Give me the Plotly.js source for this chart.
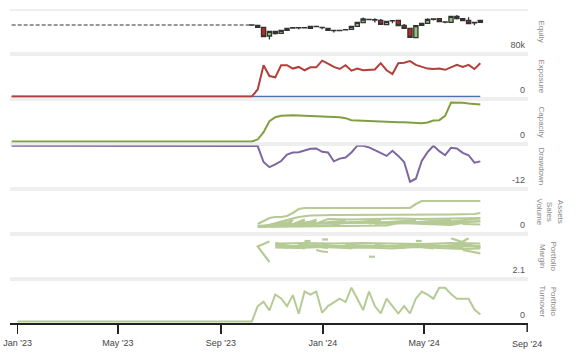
<!DOCTYPE html>
<html><head><meta charset="utf-8">
<script src="https://cdn.plot.ly/plotly-3.0.1.min.js"></script>
<style>html,body{margin:0;padding:0;background:#fff}#chart{width:580px;height:360px}</style>
</head><body><div id="chart"></div>
<script>
// weekly time index
const weeks = [];
for (let k = 0; k < 81; k++) {
  weeks.push(new Date(Date.UTC(2022, 11, 25) + k * 7 * 86400000).toISOString().slice(0, 10));
}
const activeWeeks = weeks.slice(41);

// Equity (weekly candles from week 41)
const equityStart = 100000;
const equityOpen  = [100000,99720,98210,91700,95190,93680,95940,97740,98020,97920,97450,98960,98210,97450,95940,95750,96320,96700,98960,101790,104250,103960,103490,100280,103110,103490,99720,97450,90470,99720,101230,104340,104810,102360,101980,106510,104810,103490,101890,101980];
const equityHigh  = [100100,99910,98400,95380,95380,96130,97640,98210,98210,98210,99150,99060,98300,97640,96040,96130,96700,99150,102170,105570,104340,105000,104530,102920,103490,103680,100750,97640,99720,101420,105000,104620,105000,102450,106700,107550,105000,105760,101980,103680];
const equityLow   = [99800,98110,91040,89150,92740,93490,95750,97640,96700,97830,97260,98580,96700,95750,94250,95660,96230,96510,98770,101230,103870,101980,100280,100090,101230,99340,97260,90190,90190,99530,101040,103490,102360,101230,101790,104060,103110,100850,99720,101790];
const equityClose = [99900,98210,91230,95190,93490,95940,97450,98020,97920,98020,98960,98770,98020,95940,95750,95940,96510,98960,101980,104530,104060,103770,100470,102740,103300,99530,97450,90660,99530,101230,104250,104530,102550,102170,106510,104810,103300,101040,101700,103490];

// Exposure, capacity, drawdown, turnover (weeks 41..80)
const exposure = [0,17,75,49,46,75,75,67,71,63,70,70,86,79,71,66,75,62,67,63,64,65,80,63,54,80,81,85,76,71,67,66,67,64,71,76,71,76,66,80];
const exposureBase = [0, 0];
const capacity = [0,6,28,61,73,77,79,79,78,78,77,76,75,75,74,73,70,64,63,62,61,61,60,60,59,58,58,57,56,55,57,63,64,77,117,117,116,114,113,111];
const drawdown = [0,-0.1,-4.8,-6.3,-5.5,-4.5,-2.6,-2.0,-1.9,-1.5,-0.9,-0.8,-1.8,-2.0,-4.6,-3.8,-3.5,-2.0,0,0,-0.5,-1.3,-2.1,-3.0,-1.5,-3.0,-4.8,-10.6,-9.7,-4.5,-1.9,0,-1.6,-2.8,-0.6,-0.8,-2.1,-2.8,-5.0,-4.6];
const turnover = [0,7.7,9.9,5.5,13.5,11.5,7.7,13.2,3.9,15,13.4,15,4.4,7.7,9.4,11.4,9.7,16.9,11.4,5.7,15,7.7,4,11.4,7.7,4,7.7,4,11.4,15,13.4,11.4,16.9,16.9,13.7,11.4,11.4,11.4,6,3.5];

// Assets sales volume: (week index, value) per asset
const volA_k = [42,43,44,45,46,47,48,49,50,68,69,70,80];
const volA_v = [75,105,135,145,145,155,185,225,235,235,275,305,305];
const volB_k = [43,45,47,49,51,55,60,65,70,75,79,80];
const volB_v = [50,85,115,145,160,165,165,170,170,170,175,185];
const volC_k = [46,48,47,50,49,52,51,54,58,62,66,70,74,78,80];
const volC_v = [50,120,50,120,50,120,55,125,120,125,130,125,130,130,135];
const volD_k = [42,50,56,54,60,64,62,68,72,70,76,80];
const volD_v = [50,55,65,90,95,90,75,85,95,75,85,105];
const volE_k = [42,48,53,58,64,66,71,75,78,77,80];
const volE_v = [45,50,50,55,60,85,70,65,95,75,70];
const volF_k = [44,47,46,52,50,57,55,63,61,69,67,75,73,80];
const volF_v = [65,95,60,105,70,110,75,115,80,115,85,120,90,130];
const volG_k = [42,44,52,60,68,76,80];
const volG_v = [55,65,80,85,90,95,100];

// Portfolio margin: (week index, value)
const marA_k = [44,42,44];
const marA_v = [3.85,3.60,2.825];
const marB_k = [45,46,50,55,60,65,70,75,80];
const marB_v = [3.775,3.75,3.775,3.75,3.775,3.75,3.725,3.775,3.75];
const marC_k = [45,48,52,56,60,64,68,72,76,80];
const marC_v = [3.675,3.625,3.675,3.625,3.65,3.625,3.675,3.625,3.675,3.625];
const marD_k = [45,49,53,57,61,65,69,73,77,80];
const marD_v = [3.55,3.525,3.575,3.525,3.55,3.5,3.575,3.525,3.475,3.5];
const marE_k = [50,51,null,53,54,null,52,53,54,null,61,62,null,69,70,null,75,80,null,78,75,null,77,80];
const marE_v = [3.875,3.875,null,3.95,3.95,null,3.425,3.35,3.325,null,3.09,3.09,null,3.875,3.875,null,4.01,3.51,null,4.01,3.51,null,3.425,3.26];
const marF_k = [45,47,46,50,49,54,53,58,57,63,62,67,66,72,71,77,76,80];
const marF_v = [3.725,3.525,3.7,3.5,3.725,3.525,3.7,3.5,3.725,3.525,3.7,3.525,3.725,3.5,3.7,3.525,3.725,3.575];
const marG_k = [45,80];
const marG_v = [3.6,3.6];

const panelTitles = ['Equity','Exposure','Capacity','Drawdown','Assets<br>Sales<br>Volume','Portfolio<br>Margin','Portfolio<br>Turnover'];
const panelTickVals = [80000, 0, 0, -12, 0, 2.1, 0];
const panelTickText = ['80k', '0', '0', '-12', '0', '2.1', '0'];
const panelRanges = [[78870,111320],[-3.6,99.6],[-4.5,124.5],[-12.44,0.21],[-15,415],[2.025,4.175],[-0.75,20.75]];
const xRange = ['2022-12-23','2024-09-02'];
const xTickVals = ['2023-01-01','2023-05-01','2023-09-01','2024-01-01','2024-05-01'];
const xTickText = ["Jan '23","May '23","Sep '23","Jan '24","May '24"];
const xEndTickVal = '2024-09-01';
const xEndTickText = "Sep '24";

const wk = ks => ks.map(k => k === null ? null : weeks[k]);
const LG = '#b6ca96';
const traces = [];
traces.push({type:'scatter', mode:'lines', x:[weeks[0], weeks[41]], y:[equityStart, equityStart], xaxis:'x', yaxis:'y', line:{color:'#333', width:1, dash:'4px,2px'}});
traces.push({type:'candlestick', x:activeWeeks, open:equityOpen, high:equityHigh, low:equityLow, close:equityClose, xaxis:'x', yaxis:'y',
  increasing:{line:{color:'#333', width:1.3}, fillcolor:'#8fc27a'}, decreasing:{line:{color:'#333', width:1.3}, fillcolor:'#b42c17'}});
traces.push({type:'scatter', mode:'lines', x:[weeks[0], weeks[80]], y:exposureBase, xaxis:'x', yaxis:'y2', line:{color:'#4a72b0', width:1.5}});
traces.push({type:'scatter', mode:'lines', x:[weeks[0]].concat(activeWeeks), y:[0].concat(exposure), xaxis:'x', yaxis:'y2', line:{color:'#b23f3a', width:2}});
traces.push({type:'scatter', mode:'lines', x:[weeks[0]].concat(activeWeeks), y:[0].concat(capacity), xaxis:'x', yaxis:'y3', line:{color:'#80a040', width:2}});
traces.push({type:'scatter', mode:'lines', x:[weeks[0]].concat(activeWeeks), y:[0].concat(drawdown), xaxis:'x', yaxis:'y4', line:{color:'#7e66a3', width:2}});
[[volA_k,volA_v],[volB_k,volB_v],[volC_k,volC_v],[volD_k,volD_v],[volE_k,volE_v],[volF_k,volF_v],[volG_k,volG_v]].forEach(([k,v]) =>
  traces.push({type:'scatter', mode:'lines', x:wk(k), y:v, xaxis:'x', yaxis:'y5', line:{color:LG, width:2.2}}));
[[marA_k,marA_v],[marB_k,marB_v],[marC_k,marC_v],[marD_k,marD_v],[marE_k,marE_v],[marF_k,marF_v],[marG_k,marG_v]].forEach(([k,v]) =>
  traces.push({type:'scatter', mode:'lines', x:wk(k), y:v, xaxis:'x', yaxis:'y6', line:{color:LG, width:2.2}, connectgaps:false}));
traces.push({type:'scatter', mode:'lines', x:[weeks[1]].concat(activeWeeks), y:[0].concat(turnover), xaxis:'x', yaxis:'y7', line:{color:LG, width:2}});

const TOP = 10, PLOT_H = 313, STEP = 45, PH = 43;
function dom(i){ const top = TOP + STEP*i, bot = top + PH; return [(TOP+PLOT_H-bot)/PLOT_H, (TOP+PLOT_H-top)/PLOT_H]; }
const layout = {
  width:580, height:360, showlegend:false, boxgap:0.05, boxgroupgap:0.25,
  margin:{l:10, r:52, t:10, b:37, autoexpand:false},
  paper_bgcolor:'#fff', plot_bgcolor:'#fff',
  font:{family:'"Liberation Sans", Arial, sans-serif', size:9, color:'#444'},
  xaxis:{type:'date', range:xRange, anchor:'y7', tickmode:'array', tickvals:xTickVals, ticktext:xTickText,
    ticks:'outside', ticklen:9, tickwidth:1.5, tickcolor:'#222', showline:true, linecolor:'#222', linewidth:1.5,
    showgrid:false, zeroline:false, tickfont:{size:9, color:'#444'}, ticklabelstandoff:2, ticklabeloverflow:'allow', rangeslider:{visible:false}},
  shapes:[], annotations:[]
};
// last x tick (at the very end of the axis) drawn explicitly, positioned from the axis range
const endFrac = (Date.parse(xEndTickVal) - Date.parse(xRange[0])) / (Date.parse(xRange[1]) - Date.parse(xRange[0]));
layout.shapes.push({type:'line', xref:'paper', yref:'paper', x0:endFrac, x1:endFrac, y0:0, y1:-9/PLOT_H, line:{color:'#222', width:1.5}});
layout.annotations.push({xref:'x', yref:'paper', x:xEndTickVal, y:0, yanchor:'middle', xanchor:'center', yshift:-21,
  text:xEndTickText, showarrow:false, font:{size:9, color:'#444'}});
for (let i = 0; i < 7; i++) {
  const name = i === 0 ? 'yaxis' : 'yaxis' + (i+1);
  layout[name] = {domain:dom(i), anchor:'x', side:'right', range:panelRanges[i], tickmode:'array', tickvals:[panelTickVals[i]], ticktext:[panelTickText[i]],
    ticklabelposition:'inside top', showgrid:false, zeroline:false, showline:false, ticks:'', tickfont:{size:9, color:'#555'}};
  const d = dom(i);
  layout.shapes.push({type:'line', xref:'paper', yref:'paper', x0:0, x1:1, y0:d[1], y1:d[1], line:{color:'#dedede', width:1}});
  if (i < 6) layout.shapes.push({type:'line', xref:'paper', yref:'paper', x0:0, x1:1, y0:d[0], y1:d[0], line:{color:'#dedede', width:1}});
  const lines = panelTitles[i].split('<br>').length;
  const xc = lines === 1 ? 541 : (lines === 2 ? 548 : 550);
  layout.annotations.push({xref:'paper', yref:'paper', x:(xc-10)/518, y:(d[0]+d[1])/2, xanchor:'center', yanchor:'middle',
    text:panelTitles[i], textangle:90, showarrow:false, font:{size:8, color:'#888'}});
}
Plotly.newPlot('chart', traces, layout, {staticPlot:true, displayModeBar:false});
</script></body></html>
